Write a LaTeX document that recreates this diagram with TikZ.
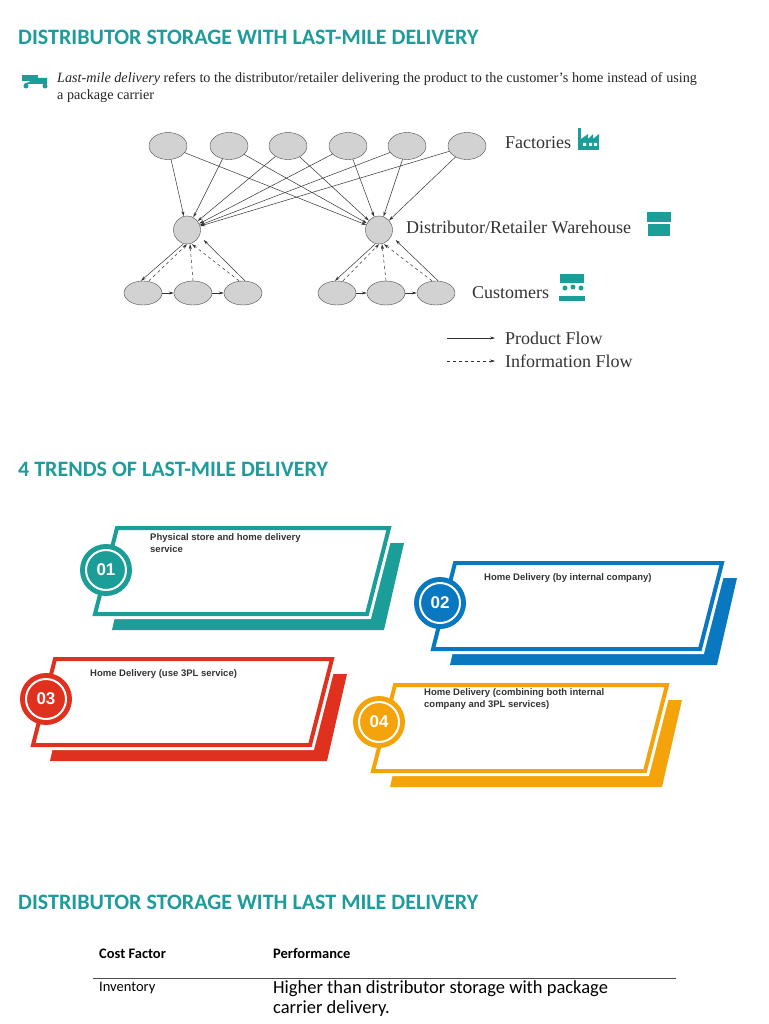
\documentclass[tikz,border=0pt]{standalone}
\usepackage{fontspec}
\setmainfont{Liberation Serif}
\newfontfamily\calf{Carlito}
\newfontfamily\ars{Liberation Sans}
\usetikzlibrary{arrows.meta,shapes.geometric}
\definecolor{teal1}{HTML}{1A9E97}
\definecolor{blue1}{HTML}{0A78C0}
\definecolor{red1}{HTML}{E0301E}
\definecolor{org1}{HTML}{F5A30A}
\definecolor{ttl}{HTML}{1E9C9C}
\begin{document}
\begin{tikzpicture}[x=1pt,y=-1pt,
 ttlstyle/.style={anchor=west,font=\calf\bfseries\fontsize{22}{26}\selectfont,text=ttl,inner sep=0},
 fac/.style={ellipse,draw=gray!60!black,fill=gray!35,minimum width=38,minimum height=27,inner sep=0},
 dis/.style={fac,minimum width=27,minimum height=28},
 cus/.style={fac,minimum width=38,minimum height=24},
 lbl/.style={anchor=west,font=\fontsize{18}{21}\selectfont,text=black!80,inner sep=0},
 pf/.style={-{Stealth[length=5pt,width=3pt]},black!80,line width=0.5pt},
 inf/.style={pf,dashed},
 btxt/.style={anchor=north west,align=left,font=\ars\bfseries\fontsize{9.5}{12.5}\selectfont,text=black!80,inner sep=0},
 ctxt/.style={font=\ars\bfseries\fontsize{17}{19}\selectfont,text=white}]
\useasboundingbox[fill=white] (0,0) rectangle (768,1024);
\node[ttlstyle] (t1) at (18,37) {DISTRIBUTOR STORAGE WITH LAST-MILE DELIVERY};
% scooter icon
\fill[teal1] (22,75) rectangle (38,81);
\fill[teal1] (38,78) -- (47,78) -- (47,84) -- (24,84) -- cycle;
\fill[teal1] (26,86) circle (2.5) (45,86) circle (2.5);
\node[anchor=west,inner sep=0,font=\fontsize{14.2}{17}\selectfont,text=black!85] (intro) at (57,79) {\textit{Last-mile delivery} refers to the distributor/retailer delivering the product to the customer's home instead of using};
\node[anchor=west,inner sep=0,font=\fontsize{14.2}{17}\selectfont,text=black!85] (intro2) at (57,96) {a package carrier};
% factories
\foreach \i/\x in {1/168,2/229,3/288,4/348,5/407,6/467}{\node[fac] (f\i) at (\x,146) {};}
\node[dis] (dl) at (187,230) {};
\node[dis] (dr) at (379,230) {};
\foreach \i in {1,...,6}{\draw[pf] (f\i) -- (dl); \draw[pf] (f\i) -- (dr);}
\node[cus] (l1) at (143,293) {};
\node[cus] (l2) at (193,293) {};
\node[cus] (l3) at (243,293) {};
\node[cus] (r1) at (337,293) {};
\node[cus] (r2) at (386,293) {};
\node[cus] (r3) at (436,293) {};
\foreach \d/\a/\b/\c in {dl/l1/l2/l3,dr/r1/r2/r3}{
 \draw[pf] ([xshift=-4pt]\d.south) -- ([xshift=-2pt]\a.north);
 \draw[inf] ([xshift=6pt]\a.north) -- ([xshift=0pt]\d.south);
 \draw[inf] (\b.north) -- ([xshift=3pt]\d.south);
 \draw[inf] ([xshift=-4pt]\c.north) -- ([xshift=5pt]\d.south);
 \draw[pf] ([xshift=2pt]\c.north) -- ([xshift=7pt]\d.south east);
 \draw[pf] (\a) -- (\b); \draw[pf] (\b) -- (\c);
}
\node[lbl] (lf) at (505,143) {Factories};
\fill[teal1] (578,139) rectangle (599,150);
\fill[teal1] (578,139) -- (578,128) -- (581,128) -- (581,139) -- cycle;
\fill[teal1] (581,139) -- (588,134) -- (588,139) -- (593,134) -- (593,139) -- (599,134) -- (599,139)--cycle;
\fill[white] (583,143) rectangle (586,146) (589,143) rectangle (592,146) (594,143) rectangle (597,146);
\node[lbl] (lw) at (406,227) {Distributor/Retailer Warehouse};
\fill[teal1] (647,212) rectangle (671,222); \fill[teal1] (648,224) rectangle (670,236);
\node[lbl] (lc) at (472,293) {Customers};
\fill[teal1] (560,274) rectangle (584,283);
\fill[teal1] (565,288) circle (2.5) (573,287) circle (2.5) (581,288) circle (2.5);
\fill[teal1] (559,301) rectangle (585,296);
\coordinate (pa) at (447,338); \coordinate (pb) at (495,338);
\coordinate (ia) at (447,361); \coordinate (ib) at (495,361);
\draw[pf] (pa) -- (pb); \draw[inf] (ia) -- (ib);
\node[lbl] (lp) at (505,338) {Product Flow};
\node[lbl] (li) at (505,361) {Information Flow};
% trends
\node[ttlstyle] (t2) at (18,469) {4 TRENDS OF LAST-MILE DELIVERY};
\foreach \c/\x/\y/\w/\cx/\cy/\n in {teal1/95/528/272/106/570/01, blue1/433/563/267/440/603/02, red1/33/659/277/46/699/03, org1/373/685/272/379/722/04}{
 \fill[\c] (\x+37,\y+15) -- (\x+\w+37,\y+15) -- (\x+\w+17,\y+102) -- (\x+17,\y+102) -- cycle;
 \draw[white,line width=10pt,fill=white] (\x+22,\y) -- (\x+\w+22,\y) -- (\x+\w,\y+86) -- (\x,\y+86) -- cycle;
 \draw[\c,line width=4pt] (\x+22,\y) -- (\x+\w+22,\y) -- (\x+\w,\y+86) -- (\x,\y+86) -- cycle;
 \fill[\c] (\cx,\cy) circle (26);
 \draw[white,line width=2pt] (\cx,\cy) circle (20);
 \node[ctxt] (n\n) at (\cx,\cy) {\n};
}
\node[btxt] (b1) at (150,533) {Physical store and home delivery\\service};
\node[btxt] (b2) at (484,573) {Home Delivery (by internal company)};
\node[btxt] (b3) at (90,669) {Home Delivery (use 3PL service)};
\node[btxt] (b4) at (424,688) {Home Delivery (combining both internal\\company and 3PL services)};
% table
\node[ttlstyle] (t3) at (18,902) {DISTRIBUTOR STORAGE WITH LAST MILE DELIVERY};
\node[anchor=west,inner sep=0,font=\calf\bfseries\fontsize{14.5}{17}\selectfont] (h1) at (99,954) {Cost Factor};
\node[anchor=west,inner sep=0,font=\calf\bfseries\fontsize{14.5}{17}\selectfont] (h2) at (273,954) {Performance};
\draw[black!70,line width=0.8pt] (93,978) -- (676,978);
\node[anchor=west,inner sep=0,font=\calf\fontsize{14.5}{17}\selectfont] (c1) at (99,988) {Inventory};
\node[anchor=north west,align=left,inner sep=0,font=\calf\fontsize{18.5}{20}\selectfont] (c2) at (273,980) {Higher than distributor storage with package\\carrier delivery.};
\end{tikzpicture}
\end{document}
